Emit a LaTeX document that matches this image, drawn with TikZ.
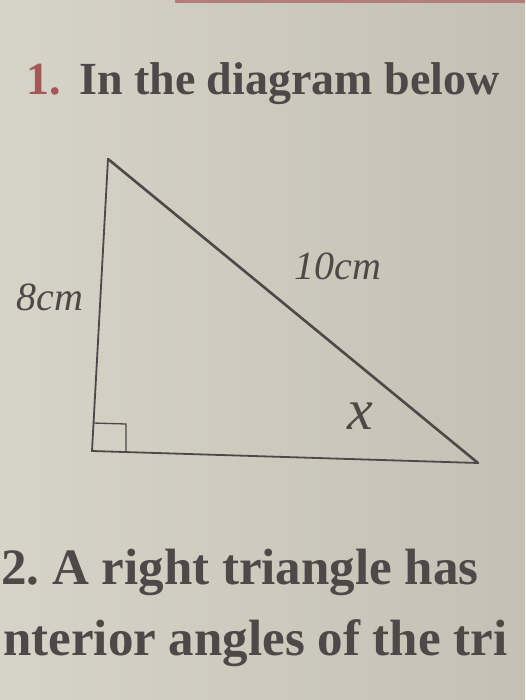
\documentclass[tikz,border=0pt]{standalone}
\usepackage{fontspec}
\setmainfont{Liberation Serif}
\definecolor{paperlight}{RGB}{214,211,199}
\definecolor{paperdark}{RGB}{196,192,180}
\definecolor{ink}{RGB}{78,72,72}
\definecolor{inkred}{RGB}{165,88,88}

\begin{document}
\begin{tikzpicture}[x=1pt,y=-1pt,
    side/.style={ink,line width=1.8pt,line cap=round},
    hyp/.style={ink,line width=2.6pt,line cap=round},
    lbl/.style={ink,inner sep=0pt,font=\fontsize{40}{40}\selectfont\itshape},
    qtext/.style={ink,inner sep=0pt,anchor=base west}]
    \useasboundingbox (0,0) rectangle (525,700);
    \clip (0,0) rectangle (525,700);
    \shade[left color=paperlight,right color=paperdark] (0,0) rectangle (525,700);
    \fill[inkred!70!paperlight] (175,0) rectangle (525,3);
    % first question
    \node[qtext,inkred,font=\fontsize{46}{46}\selectfont\bfseries] (num1) at (26,95) {1.};
    \node[qtext,font=\fontsize{46}{46}\selectfont\bfseries] (q1) at (79,95) {In the diagram below};
    % triangle
    \coordinate (A) at (108,159); \coordinate (B) at (92,451);
    \coordinate (C) at (478,463);
    \draw[side] (A) -- (B) -- (C); \draw[hyp] (A) -- (C);
    \draw[ink,line width=1.3pt] (93,423) -- (126,424) -- (126,452);
    \node[lbl] (len8) at (50,297) {8cm}; \node[lbl] (len10) at (338,266) {10cm};
    \node[lbl,font=\fontsize{58}{58}\selectfont\itshape] (angx) at (360,416) {x};
    % second question
    \node[qtext,font=\fontsize{51}{51}\selectfont\bfseries] (q2) at (1,584)
    {2.\ A right triangle has};
    \node[qtext,font=\fontsize{51}{51}\selectfont\bfseries] (q2b) at (3,655)
    {nterior angles of the tri};
\end{tikzpicture}
\end{document}
